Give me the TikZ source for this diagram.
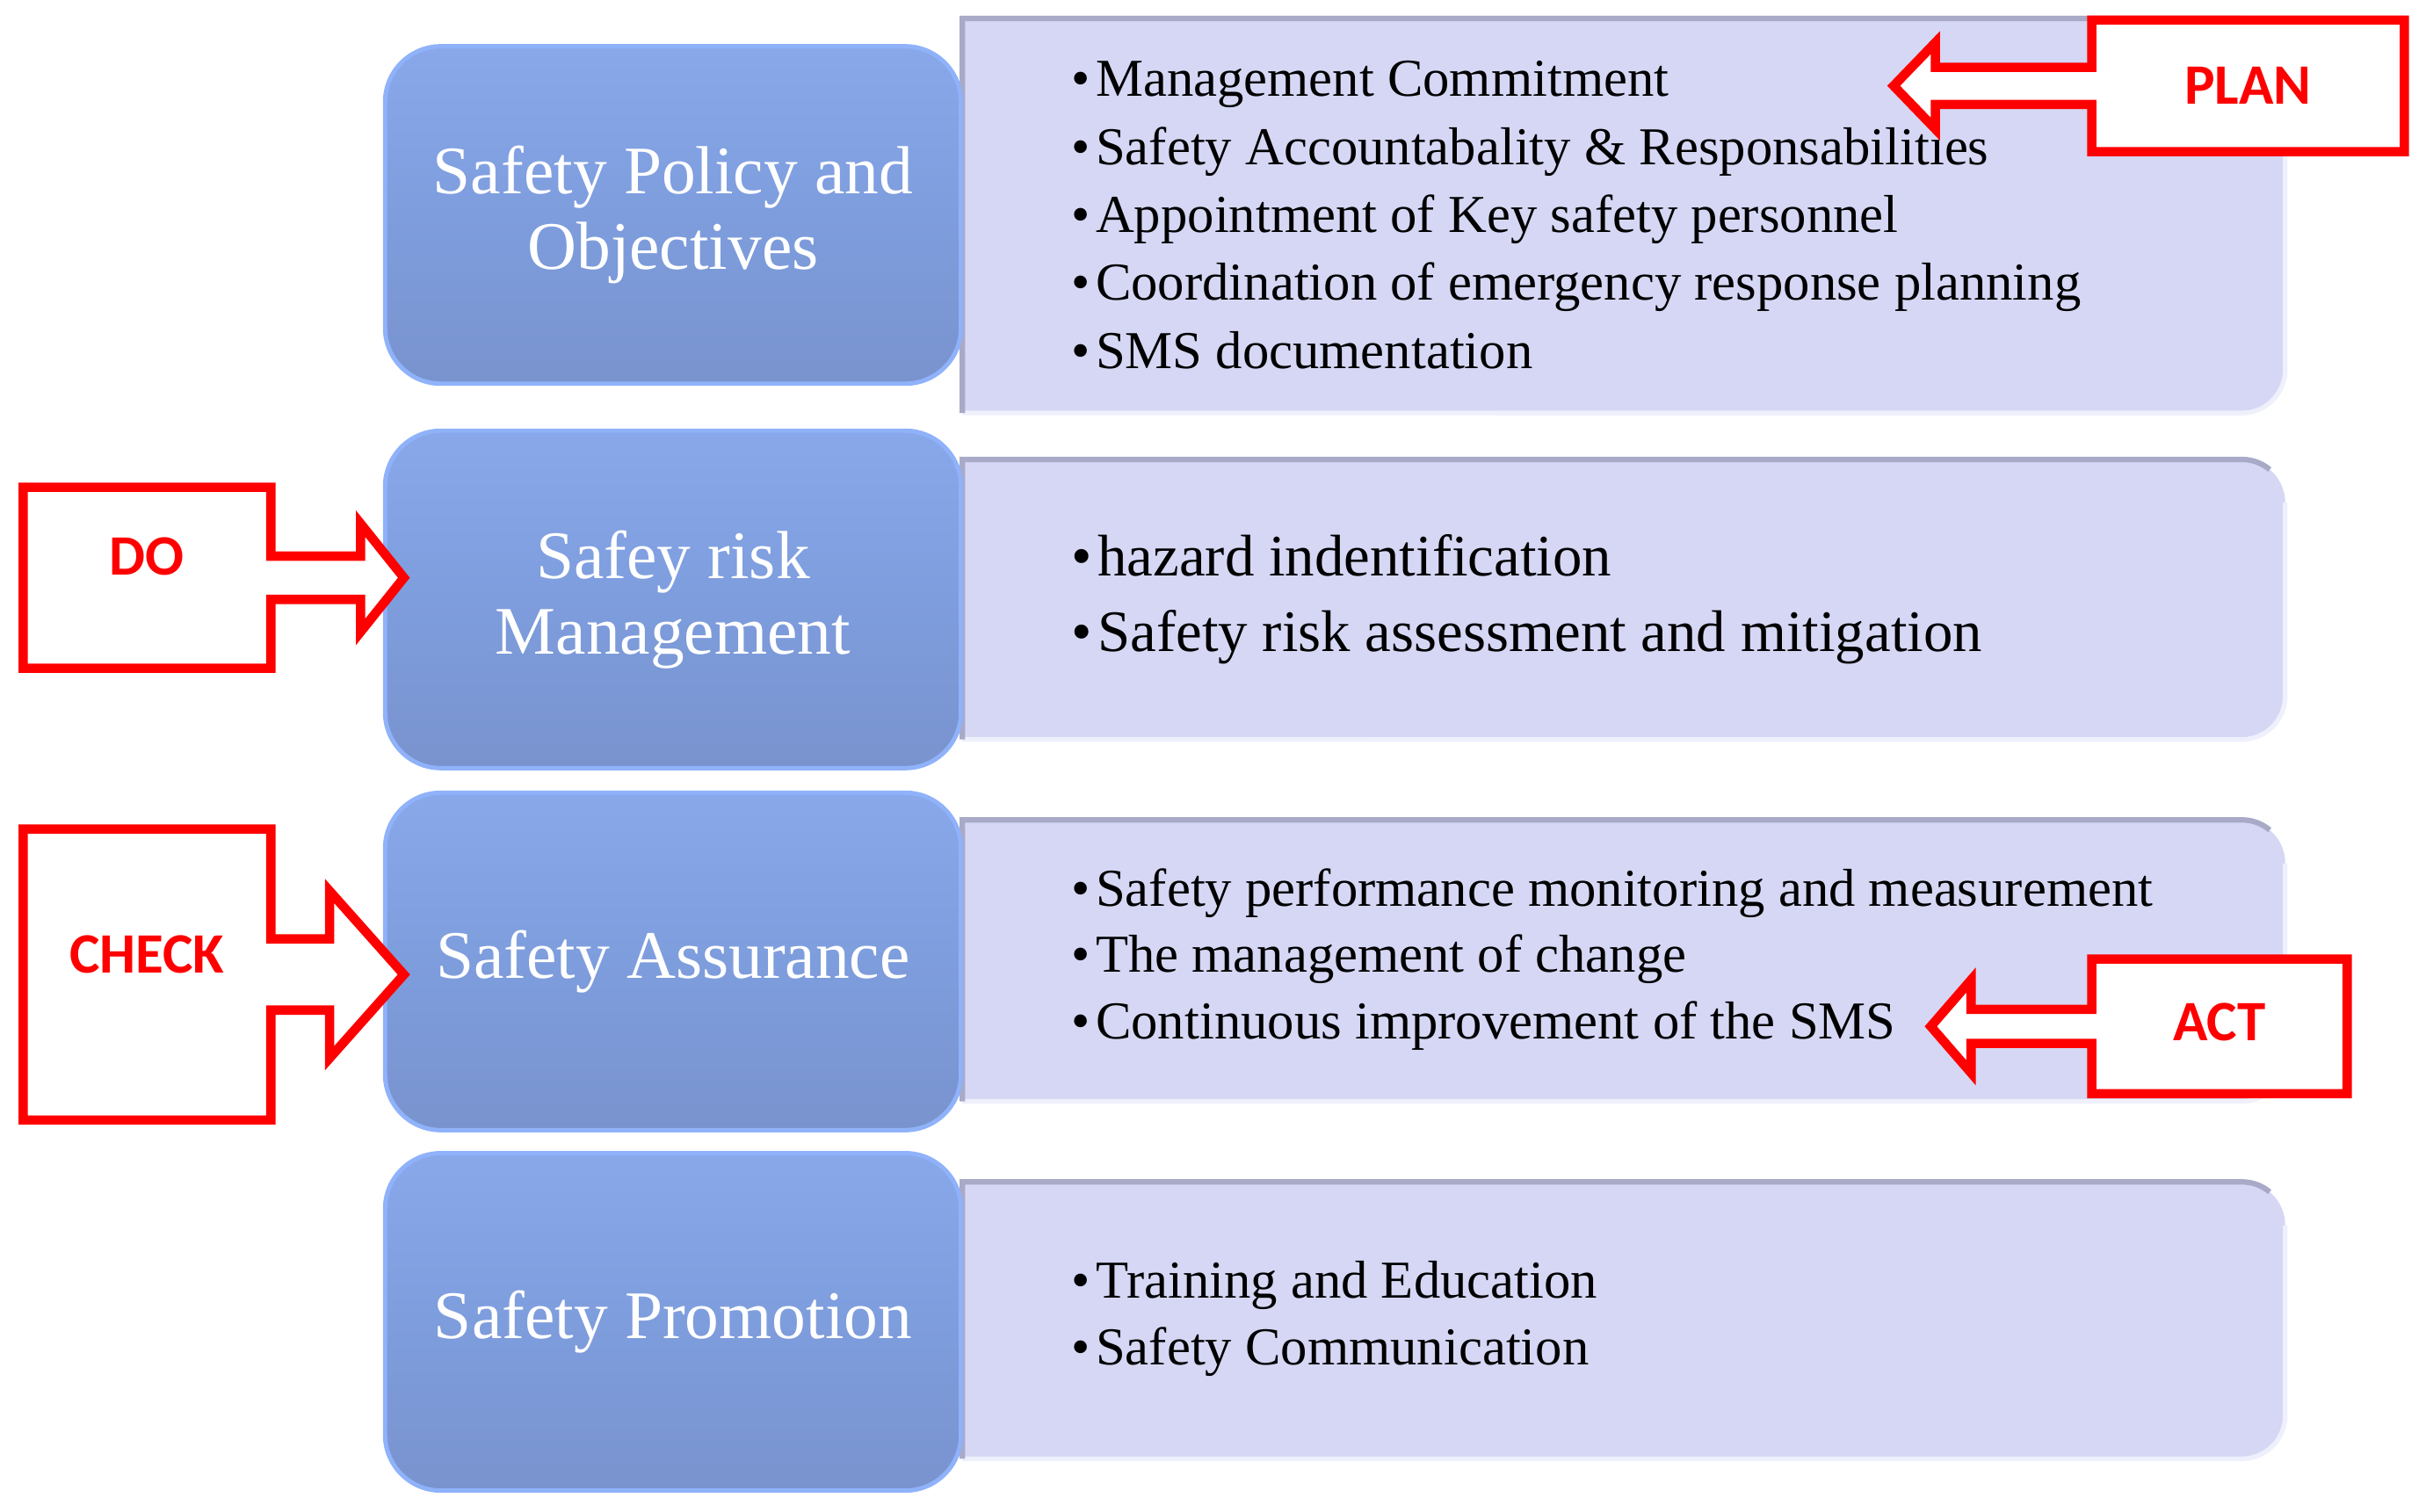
\documentclass[tikz,border=0pt]{standalone}
\usepackage{fontspec}
\setmainfont{Liberation Serif}
\newfontfamily\calloutfont{Carlito}
\usetikzlibrary{calc,positioning}
\definecolor{pillarTop}{RGB}{136,168,234}
\definecolor{pillarMid}{RGB}{126,157,221}
\definecolor{pillarBot}{RGB}{121,147,206}
\definecolor{pillarEdge}{RGB}{143,178,250}
\definecolor{panelFill}{RGB}{213,215,244}
\definecolor{panelEdge}{RGB}{168,170,200}
\definecolor{panelGlow}{RGB}{238,240,252}
\definecolor{calloutRed}{RGB}{255,0,0}
\tikzset{
	pillar/.style={rounded corners=0.36cm, minimum width=3.72cm, minimum height=2.18cm, inner sep=0pt, outer sep=0pt,
			top color=pillarTop, bottom color=pillarBot, middle color=pillarMid, draw=pillarEdge, line width=0.8pt,
			text=white, align=center, font=\fontsize{12.5}{13.9}\selectfont},
	items/.style={anchor=west, align=left, inner sep=0pt, font=\fontsize{9.8}{12.5}\selectfont},
	calloutbox/.style={inner sep=0pt, outer sep=0pt},
	callout/.style={draw=calloutRed, fill=white, line width=0.06cm, miter limit=10},
	callouttext/.style={text=calloutRed, font=\calloutfont\bfseries\fontsize{10.5}{12}\selectfont, inner sep=0pt}
}
\begin{document}
\begin{tikzpicture}[x=0.01cm, y=0.01cm]
		\useasboundingbox (0,0) rectangle (1568,977);
		% panels behind the pillars
		\foreach \top/\bot in {965/710, 680/499, 447/265, 213/34} {
				\fill[panelFill] (622,\bot) -- (622,\top) -- (1449,\top) arc[start angle=90, end angle=0, radius=0.28cm] -- (1477,\bot+28) arc[start angle=0, end angle=-90, radius=0.28cm] -- cycle;
				\draw[panelGlow, line width=0.03cm] (1477,\top-28) -- (1477,\bot+28) arc[start angle=0, end angle=-90, radius=0.28cm] -- (622,\bot);
				\draw[panelEdge, line width=0.035cm] (622,\bot) -- (622,\top) -- (1449,\top) arc[start angle=90, end angle=50, radius=0.28cm];
			}
		\node[items] (plist) at (692,838) {\textbullet\hspace{1pt}Management Commitment\\ \textbullet\hspace{1pt}Safety Accountabality \& Responsabilities\\ \textbullet\hspace{1pt}Appointment of Key safety personnel\\ \textbullet\hspace{1pt}Coordination of emergency response planning\\ \textbullet\hspace{1pt}SMS documentation};
		\node[items, font=\fontsize{10.8}{13.9}\selectfont] (rlist) at (692,589.5) {\textbullet\hspace{1pt}hazard indentification\\ \textbullet\hspace{1pt}Safety risk assessment and mitigation};
		\node[items, font=\fontsize{9.8}{12.2}\selectfont] (alist) at (692,357) {\textbullet\hspace{1pt}Safety performance monitoring and measurement\\ \textbullet\hspace{1pt}The management of change\\ \textbullet\hspace{1pt}Continuous improvement of the SMS};
		\node[items, font=\fontsize{9.8}{12.2}\selectfont] (tlist) at (692,124.5) {\textbullet\hspace{1pt}Training and Education\\ \textbullet\hspace{1pt}Safety Communication};
		% pillars
		\node[pillar] (policy) at (435,838) {Safety Policy and\\Objectives};
		\node[pillar] (risk) at (435,589.5) {Safey risk\\Management};
		\node[pillar] (assurance) at (435,355.5) {Safety Assurance};
		\node[pillar] (promotion) at (435,122.5) {Safety Promotion};
		% PDCA callouts
		\node[calloutbox, minimum width=2.02cm, minimum height=0.85cm] (plan) at (1453,921.5) {};
		\coordinate (planTip) at ($(plan.west)+(-128,0)$);
		\draw[callout] (plan.north west) -- (plan.north east) -- (plan.south east) -- (plan.south west) -- ($(plan.west)+(0,-12)$) -- ($(plan.west)+(-101,-12)$) -- ($(plan.west)+(-101,-28)$) -- (planTip) -- ($(plan.west)+(-101,28)$) -- ($(plan.west)+(-101,12)$) -- ($(plan.west)+(0,12)$) -- cycle;
		\node[callouttext] (planText) at (plan) {PLAN};
		\node[calloutbox, minimum width=1.6cm, minimum height=1.17cm] (do) at (95,603.5) {};
		\coordinate (doTip) at ($(do.east)+(86,0)$);
		\draw[callout] (do.north east) -- (do.north west) -- (do.south west) -- (do.south east) -- ($(do.east)+(0,-14)$) -- ($(do.east)+(58,-14)$) -- ($(do.east)+(58,-35)$) -- (doTip) -- ($(do.east)+(58,35)$) -- ($(do.east)+(58,14)$) -- ($(do.east)+(0,14)$) -- cycle;
		\node[callouttext] (doText) at ([yshift=0.135cm]do.center) {DO};
		\node[calloutbox, minimum width=1.6cm, minimum height=1.88cm] (check) at (95,347) {};
		\coordinate (checkTip) at ($(check.east)+(86,0)$);
		\draw[callout] (check.north east) -- (check.north west) -- (check.south west) -- (check.south east) -- ($(check.east)+(0,-23)$) -- ($(check.east)+(38,-23)$) -- ($(check.east)+(38,-54)$) -- (checkTip) -- ($(check.east)+(38,54)$) -- ($(check.east)+(38,23)$) -- ($(check.east)+(0,23)$) -- cycle;
		\node[callouttext] (checkText) at ([yshift=0.13cm]check.center) {CHECK};
		\node[calloutbox, minimum width=1.65cm, minimum height=0.87cm] (act) at (1434.5,313.5) {};
		\coordinate (actTip) at ($(act.west)+(-104,0)$);
		\draw[callout] (act.north west) -- (act.north east) -- (act.south east) -- (act.south west) -- ($(act.west)+(0,-11)$) -- ($(act.west)+(-78,-11)$) -- ($(act.west)+(-78,-30)$) -- (actTip) -- ($(act.west)+(-78,30)$) -- ($(act.west)+(-78,11)$) -- ($(act.west)+(0,11)$) -- cycle;
		\node[callouttext] (actText) at ([yshift=0.03cm]act.center) {ACT};
	\end{tikzpicture}
\end{document}
